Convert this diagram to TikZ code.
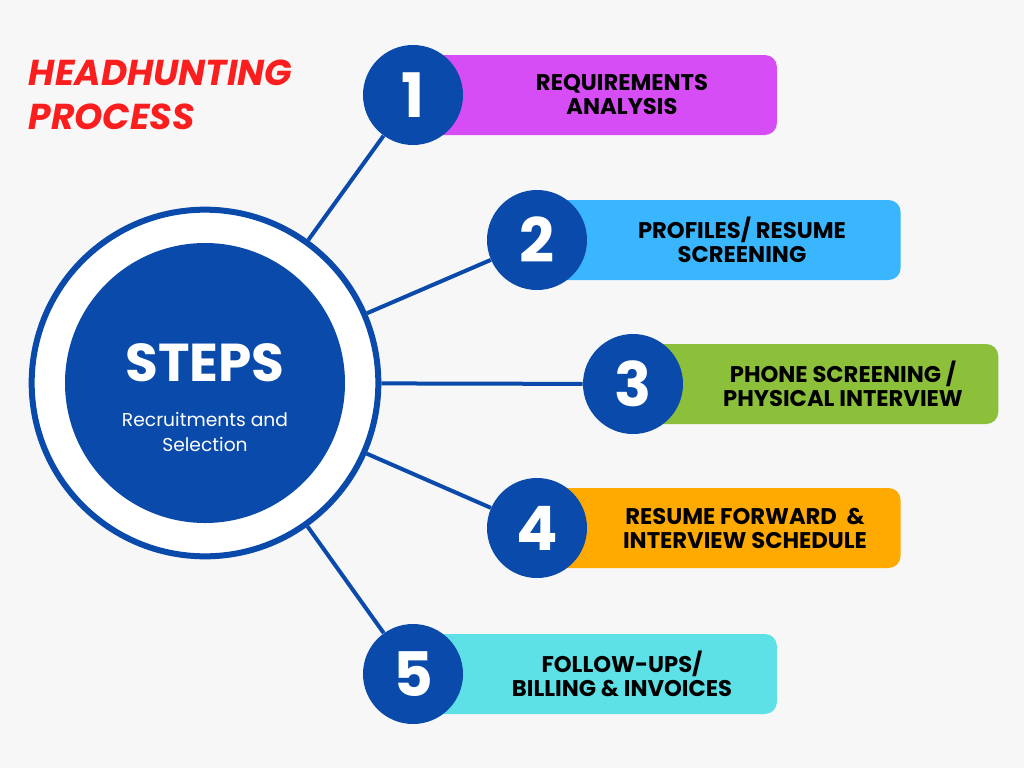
\documentclass[tikz,border=0pt]{standalone}
\usepackage{fontspec}
\setmainfont{Poppins}
\usepackage{tikz}
\usetikzlibrary{positioning}
\definecolor{bgcol}{RGB}{247,247,248}
\definecolor{stepblue}{RGB}{9,74,170}
\definecolor{titlered}{RGB}{250,30,30}
\definecolor{barone}{RGB}{214,77,245}
\definecolor{bartwo}{RGB}{58,182,255}
\definecolor{barthree}{RGB}{141,192,58}
\definecolor{barfour}{RGB}{255,170,0}
\definecolor{barfive}{RGB}{93,224,230}
\tikzset{
  bar/.style={rounded corners=9pt, minimum height=60pt, anchor=west, inner sep=0pt},
  bartext/.style={font=\bfseries\fontsize{17}{18}\selectfont, align=center, text=black},
  numdot/.style={circle, fill=stepblue, minimum size=75pt, inner sep=0pt, text=white, font=\bfseries\fontsize{46}{46}\selectfont},
  spoke/.style={stepblue, line width=3pt}
}
\begin{document}
\begin{tikzpicture}[x=0.75pt,y=-0.75pt]
  % background
  \fill[bgcol] (0,0) rectangle (1024,768);
  \useasboundingbox (0,0) rectangle (1024,768);

  % title
  \node[anchor=west, text=titlered, font=\bfseries\itshape\fontsize{27}{33}\selectfont, align=left] (title) at (24,95) {HEADHUNTING\\PROCESS};

  % centre
  \node[circle, draw=stepblue, line width=4.5pt, fill=white, minimum size=260pt] (ring) at (205,383) {};
  \node[circle, fill=stepblue, minimum size=210pt] (hub) at (205,383) {};
  \node[text=white, font=\bfseries\fontsize{40}{40}\selectfont] (steps) at (205,363) {STEPS};
  \node[text=white, font=\fontsize{14}{19}\selectfont, align=center] (sub) at (205,432) {Recruitments and\\Selection};

  % bars
  \node[bar, fill=barone, minimum width=260pt] (b1) at (430,95) {};
  \node[bar, fill=bartwo, minimum width=259pt] (b2) at (555,240) {};
  \node[bar, fill=barthree, minimum width=261pt] (b3) at (650,384) {};
  \node[bar, fill=barfour, minimum width=259pt] (b4) at (555,528) {};
  \node[bar, fill=barfive, minimum width=260pt] (b5) at (430,674) {};
  \node[bartext] (t1) at (622,95) {REQUIREMENTS\\ANALYSIS};
  \node[bartext] (t2) at (742,240) {PROFILES/ RESUME\\SCREENING};
  \node[bartext] (t3) at (843,384) {PHONE SCREENING /\\PHYSICAL INTERVIEW};
  \node[bartext] (t4) at (745,528) {RESUME FORWARD \ \&\\INTERVIEW SCHEDULE};
  \node[bartext] (t5) at (622,674) {FOLLOW-UPS/\\BILLING \& INVOICES};

  % numbers
  \node[numdot] (n1) at (413,95) {1};
  \node[numdot] (n2) at (537,240) {2};
  \node[numdot] (n3) at (633,384) {3};
  \node[numdot] (n4) at (537,528) {4};
  \node[numdot] (n5) at (413,674) {5};

  % spokes
  \foreach \n in {1,...,5}
    \draw[spoke] (ring) -- (n\n);
\end{tikzpicture}
\end{document}
